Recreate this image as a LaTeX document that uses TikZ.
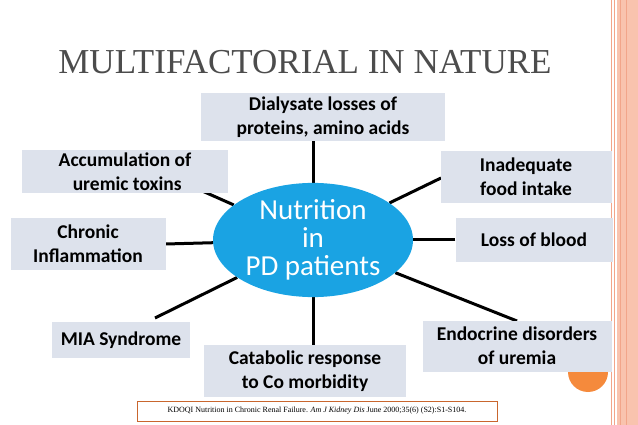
\documentclass[tikz,border=0pt]{standalone}
\usepackage{fontspec}
\setmainfont{Carlito}
\newfontfamily\titlefont{Liberation Serif}
\newfontfamily\citefont{Liberation Serif}
\usetikzlibrary{shapes.geometric}
\definecolor{boxfill}{HTML}{DDE2EC}
\definecolor{ellfill}{HTML}{1AA3E3}
\definecolor{bandpink}{HTML}{F9C3AE}
\definecolor{bandline}{HTML}{F2A58A}
\definecolor{dotorange}{HTML}{F58A3C}
\definecolor{citeborder}{HTML}{C9662E}
\pgfdeclarelayer{background}
\pgfsetlayers{background,main}
\tikzset{
  factor/.style={rectangle, fill=boxfill, align=center, inner sep=0pt,
    font=\bfseries\fontsize{19.5}{24}\selectfont},
  spoke/.style={draw, line width=3pt}
}
\begin{document}
\begin{tikzpicture}[x=1pt,y=-1pt]
  \useasboundingbox (0,0) rectangle (638,425);
  % right band
  \fill[bandpink] (617,0) rectangle (638,425);
  \foreach \x in {611,614,620,626} \draw[bandline, line width=1pt] (\x,0) -- (\x,425);
  \fill[dotorange] (588,372) circle (20);

  % title
  \node (title) at (305,62) {\titlefont\fontsize{35}{35}\selectfont\color{black!70}MULTIFACTORIAL IN NATURE};

  % Place nodes
  \node [ellipse, fill=ellfill, minimum width=200pt, minimum height=96pt, align=center, inner sep=0pt,
         text=white, font=\fontsize{29}{28}\selectfont] (nut) at (313,240) {Nutrition\\in\\PD patients};
  \node [factor, minimum width=244pt, minimum height=48pt] (dia) at (323,117) {Dialysate losses of\\proteins, amino acids};
  \node [factor, minimum width=206pt, minimum height=43pt] (acc) at (125,172) {Accumulation of\\\ uremic toxins};
  \node [factor, minimum width=171pt, minimum height=52pt] (ina) at (526,177) {Inadequate\\food intake};
  \node [factor, minimum width=155pt, minimum height=52pt] (chr) at (88,244) {Chronic\\Inflammation};
  \node [factor, minimum width=157pt, minimum height=44pt] (los) at (534,240) {Loss of blood};
  \node [factor, minimum width=138pt, minimum height=36pt] (mia) at (121,340) {MIA Syndrome};
  \node [factor, minimum width=202pt, minimum height=52pt] (cat) at (305,371) {Catabolic response\\to Co morbidity};
  \node [factor, minimum width=189pt, minimum height=51pt] (end) at (517,346) {Endocrine disorders\\of uremia};
  \node [draw=citeborder, line width=1pt, minimum width=360pt, minimum height=20pt, inner sep=0pt,
         font=\citefont\fontsize{8}{8}\selectfont] (cite) at (317,411)
        {KDOQI Nutrition in Chronic Renal Failure. \textit{Am J Kidney Dis} June 2000;35(6) (S2):S1-S104.};

  % spoke ends
  \coordinate (eacc) at (200,190);
  \coordinate (eina) at (441,178);
  \coordinate (emia) at (155,318);
  \coordinate (eend) at (517,321);

  %Draw edges
  \begin{pgfonlayer}{background}
    \path [spoke] (dia.south -| nut) -- (nut);
    \path [spoke] (eacc) -- (nut);
    \path [spoke] (eina) -- (nut);
    \path [spoke] (chr.east) -- (nut);
    \path [spoke] (los.west) -- (nut);
    \path [spoke] (emia) -- (nut);
    \path [spoke] (cat.north -| nut) -- (nut);
    \path [spoke] (eend) -- (nut);
  \end{pgfonlayer}
\end{tikzpicture}
\end{document}
